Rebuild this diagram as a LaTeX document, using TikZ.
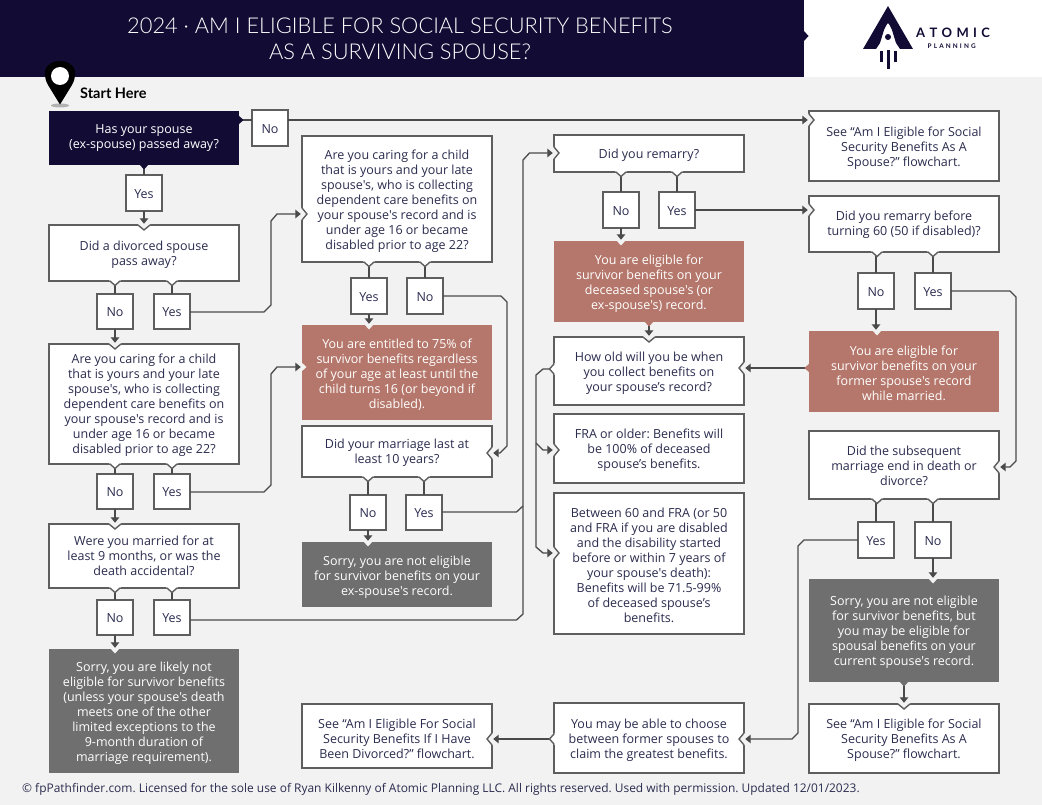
\documentclass[tikz,border=0pt]{standalone}
\usepackage{fontspec}
\setmainfont{Open Sans}
\newfontfamily\bodyfont{Open Sans}
\newfontfamily\hdrfont{Lato Light}
\newfontfamily\latofont{Lato}
\usetikzlibrary{arrows.meta}
\definecolor{navy}{HTML}{120C35}
\definecolor{bgc}{HTML}{F2F2F2}
\definecolor{salmon}{HTML}{B5776B}
\definecolor{slate}{HTML}{6F6F6F}
\definecolor{edgec}{HTML}{5E5E5E}
\definecolor{linec}{HTML}{4A4A4A}
\definecolor{txt}{HTML}{2A2C4E}
\tikzset{
  nbase/.style={inner sep=0pt,outer sep=0pt,align=center,font=\bodyfont\frenchspacing\fontsize{12.5}{15}\selectfont},
  qbox/.style={nbase,draw=edgec,line width=1.4pt,fill=white,text=txt},
  lbl/.style={qbox},
  navyb/.style={nbase,fill=navy,text=white,draw=none},
  salb/.style={nbase,fill=salmon,text=white,draw=none},
  grayb/.style={nbase,fill=slate,text=white,draw=none},
  conn/.style={draw=linec,line width=1.3pt,line join=round},
  arr/.style={conn,-{Triangle[length=5.5pt,width=8.5pt]},shorten >=1.2pt},
}
% height of the strut on a box's first line: it sets the text's vertical place
\newcommand\rh{12.5}
% box from corners: name, style, x1, y1, x2, y2, text
\newcommand\bx[7]{%
  \pgfmathsetmacro\cxx{(#3+#5)/2}\pgfmathsetmacro\cyy{(#4+#6)/2}%
  \pgfmathsetmacro\wdd{#5-#3}\pgfmathsetmacro\htt{#6-#4}%
  \node[#2,minimum width=\wdd pt,minimum height=\htt pt] (#1) at (\cxx,\cyy) {\rule{0pt}{\rh pt}#7};}
% entry notch: x, y, rotation
\newcommand\nin[3]{\begin{scope}[shift={(#1,#2)},rotate=#3]
  \fill[bgc] (-6,-1) -- (-6,0) -- (0,5) -- (6,0) -- (6,-1) -- cycle;
  \draw[edgec,line width=1.4pt,line join=miter] (-6,0) -- (0,5) -- (6,0);
  \end{scope}}
% exit tab on outlined box
\newcommand\nout[3]{\begin{scope}[shift={(#1,#2)},rotate=#3]
  \fill[white] (-6,-1) -- (0,4.5) -- (6,-1) -- cycle;
  \draw[edgec,line width=1.4pt,line join=miter] (-5,0) -- (0,4.5) -- (5,0);
  \end{scope}}
% triangle on filled box: x, y, rotation, colour
\newcommand\nfil[4]{\begin{scope}[shift={(#1,#2)},rotate=#3]
  \fill[#4] (-5,-1) -- (0,4.5) -- (5,-1) -- cycle;
  \end{scope}}
\begin{document}
\begin{tikzpicture}[x=1pt,y=-1pt]
\useasboundingbox (0,0) rectangle (1042,805);
\fill[bgc] (0,0) rectangle (1042,805);
% header
\fill[white] (804,0) rectangle (1042,77);
\fill[navy] (0,0) rectangle (804,77);
\fill[navy] (804,31) -- (808.5,36) -- (804,41) -- cycle;
\node[text=white,align=center,font=\hdrfont\fontsize{21.8}{26}\selectfont] (title) at (400,38.5) {2024 · AM I ELIGIBLE FOR SOCIAL SECURITY BENEFITS\\AS A SURVIVING SPOUSE?};
% logo
\fill[navy] (888,6) -- (913,49) -- (900,49) -- (896,43) -- (892,30) .. controls (891,27) and (889,24) .. (888,23) .. controls (887,24) and (885,27) .. (884,30) -- (880,43) -- (876,49) -- (863,49) -- cycle;
\fill[navy] (888,37) circle (3);
\fill[navy] (879.5,51) rectangle (882.5,62);
\fill[navy] (893.5,51) rectangle (896.5,62);
\fill[navy] (886.5,50) rectangle (889.5,69);
\node[text=navy,anchor=west,inner sep=0pt,font=\latofont\bfseries\fontsize{13}{14}\selectfont] (atomic) at (916,32.5) {A\,\,T\,\,O\,\,M\,\,I\,\,C};
\node[text=navy,anchor=west,inner sep=0pt,font=\latofont\bfseries\fontsize{6.4}{7}\selectfont] (plan) at (927.5,46) {P\,\,L\,\,A\,\,N\,\,N\,\,I\,\,N\,\,G};
% pin
\fill[gray!60] (60,105.5) ellipse (9 and 2);
\fill[black] (60,104.5) -- (48,85) .. controls (40,70) and (48,61) .. (60,61) .. controls (72,61) and (80,70) .. (72,85) -- cycle;
\fill[white] (60,76) circle (9);
\node[anchor=west,inner sep=0pt,font=\latofont\bfseries\fontsize{14.5}{16}\selectfont] (start) at (80,93) {Start Here};
% left column
\renewcommand\rh{0}
\bx{qa}{navyb}{49}{111}{239}{165}{Has your spouse\\(ex-spouse) passed away?}
\bx{qd}{qbox}{49}{524}{239}{588}{Were you married for at\\least 9 months, or was the\\death accidental?}
\renewcommand\rh{10.5}
\bx{ya}{lbl}{126}{175}{162}{211}{Yes}
\bx{na}{lbl}{252}{110}{288}{146}{No}
\bx{nb}{lbl}{97}{294}{133}{329}{No}
\bx{yb}{lbl}{154}{294}{190}{329}{Yes}
\bx{nc}{lbl}{97}{474}{133}{509}{No}
\bx{yc}{lbl}{154}{474}{190}{509}{Yes}
\bx{nd}{lbl}{97}{600}{133}{635}{No}
\bx{yd}{lbl}{154}{600}{190}{635}{Yes}
\bx{ye}{lbl}{351}{278}{387}{314}{Yes}
\bx{ne}{lbl}{407}{278}{443}{314}{No}
\bx{nf}{lbl}{350}{495}{386}{530}{No}
\bx{yf}{lbl}{406}{495}{442}{530}{Yes}
\bx{ng}{lbl}{603}{192}{639}{228}{No}
\bx{yg}{lbl}{659}{192}{695}{228}{Yes}
\bx{ni}{lbl}{858}{273}{894}{309}{No}
\bx{yi}{lbl}{915}{273}{951}{309}{Yes}
\bx{yj}{lbl}{858}{522}{894}{558}{Yes}
\bx{nj}{lbl}{915}{522}{951}{558}{No}
\bx{qi}{qbox}{809}{196}{999}{252}{Did you remarry before\\turning 60 (50 if disabled)?}
\bx{qj}{qbox}{809}{431}{999}{499}{Did the subsequent\\marriage end in death or\\divorce?}
\renewcommand\rh{12.5}
\bx{qb}{qbox}{49}{225}{239}{281}{Did a divorced spouse\\pass away?}
\bx{qc}{qbox}{49}{344}{239}{464}{Are you caring for a child\\that is yours and your late\\spouse's, who is collecting\\dependent care benefits on\\your spouse's record and is\\under age 16 or became\\disabled prior to age 22?}
\bx{qf}{qbox}{302}{426}{492}{477}{Did your marriage last at\\least 10 years?}
\bx{qg}{qbox}{554}{135}{744}{172}{Did you remarry?}
\bx{rb}{qbox}{554}{414}{744}{483}{FRA or older: Benefits will\\be 100\% of deceased\\spouse’s benefits.}
\bx{rc}{qbox}{554}{493}{744}{634}{Between 60 and FRA (or 50\\and FRA if you are disabled\\and the disability started\\before or within 7 years of\\your spouse's death):\\Benefits will be 71.5-99\%\\of deceased spouse’s\\benefits.}
\bx{se}{salb}{809}{331}{999}{412}{You are eligible for\\survivor benefits on your\\former spouse's record\\while married.}
\bx{sf}{grayb}{809}{579}{999}{682}{Sorry, you are not eligible\\for survivor benefits, but\\you may be eligible for\\spousal benefits on your\\current spouse's record.}
\bx{rf}{qbox}{809}{704}{999}{773}{See “Am I Eligible for Social\\Security Benefits As A\\Spouse?” flowchart.}
\renewcommand\rh{14.5}
\bx{sa}{grayb}{49}{649}{239}{773}{Sorry, you are likely not\\eligible for survivor benefits\\(unless your spouse's death\\meets one of the other\\limited exceptions to the\\9-month duration of\\marriage requirement).}
\bx{qe}{qbox}{302}{136}{492}{262}{Are you caring for a child\\that is yours and your late\\spouse's, who is collecting\\dependent care benefits on\\your spouse's record and is\\under age 16 or became\\disabled prior to age 22?}
\bx{sb}{salb}{302}{325}{492}{420}{You are entitled to 75\% of\\survivor benefits regardless\\of your age at least until the\\child turns 16 (or beyond if\\disabled).}
\bx{sc}{grayb}{302}{542}{492}{607}{Sorry, you are not eligible\\for survivor benefits on your\\ex-spouse's record.}
\bx{ra}{qbox}{302}{704}{492}{768}{See “Am I Eligible For Social\\Security Benefits If I Have\\Been Divorced?” flowchart.}
\bx{sd}{salb}{554}{241}{744}{322}{You are eligible for\\survivor benefits on your\\deceased spouse's (or\\ex-spouse's) record.}
\bx{qh}{qbox}{554}{337}{744}{405}{How old will you be when\\you collect benefits on\\your spouse’s record?}
\bx{rd}{qbox}{554}{703}{744}{773}{You may be able to choose\\between former spouses to\\claim the greatest benefits.}
\bx{re}{qbox}{809}{111}{999}{181}{See “Am I Eligible for Social\\Security Benefits As A\\Spouse?” flowchart.}
% entry / exit points
\coordinate (qeIn) at (302,214);
\coordinate (sbIn) at (302,367);
\coordinate (qgIn) at (554,153);
\coordinate (qfIn) at (492,453);
\coordinate (reIn) at (809,120);
\coordinate (qiIn) at (809,210);
\coordinate (qjIn) at (999,467);
\coordinate (rdIn) at (744,739);
\coordinate (qhIn) at (744,368);
\coordinate (qhOut) at (554,369);
\coordinate (rbIn) at (554,450);
\coordinate (rcIn) at (554,553);
\coordinate (qaOut) at (239,120);
\coordinate (ybOut) at (190,312);
\coordinate (ycOut) at (190,492);
\coordinate (ydOut) at (190,620);
\coordinate (yfOut) at (442,512);
\coordinate (seOut) at (809,368);
% connectors
\draw[conn] (qaOut) -- (qaOut -| na.west);
\draw[arr] (na.east |- qaOut) -- (reIn);
\draw[conn] (qa.south -| ya.north) -- (ya.north);
\draw[arr] (ya.south) -- (ya.south |- qb.north);
\draw[conn] (qb.south -| nb.north) -- (nb.north);
\draw[conn] (qb.south -| yb.north) -- (yb.north);
\draw[arr] (nb.south) -- (nb.south |- qc.north);
\draw[arr] (ybOut) -- (264,312) -- (271,305) -- (271,221) -- (277,214) -- (qeIn);
\draw[conn] (qc.south -| nc.north) -- (nc.north);
\draw[conn] (qc.south -| yc.north) -- (yc.north);
\draw[arr] (nc.south) -- (nc.south |- qd.north);
\draw[arr] (ycOut) -- (264,492) -- (271,485) -- (271,374) -- (277,367) -- (sbIn);
\draw[conn] (qd.south -| nd.north) -- (nd.north);
\draw[conn] (qd.south -| yd.north) -- (yd.north);
\draw[arr] (nd.south) -- (nd.south |- sa.north);
\draw[arr] (ydOut) -- (516.5,620) -- (523,614) -- (523,160) -- (529.5,153) -- (qgIn);
\draw[conn] (qe.south -| ye.north) -- (ye.north);
\draw[conn] (qe.south -| ne.north) -- (ne.north);
\draw[arr] (ye.south) -- (ye.south |- sb.north);
\draw[arr] (ne.east) -- (501,296) -- (507,302) -- (507,446) -- (500,453) -- (qfIn);
\draw[conn] (qf.south -| nf.north) -- (nf.north);
\draw[conn] (qf.south -| yf.north) -- (yf.north);
\draw[arr] (nf.south) -- (nf.south |- sc.north);
\draw[conn] (yfOut) -- (516.5,512) -- (523,506);
\draw[conn] (qg.south -| ng.north) -- (ng.north);
\draw[conn] (qg.south -| yg.north) -- (yg.north);
\draw[arr] (ng.south) -- (ng.south |- sd.north);
\draw[arr] (yg.east) -- (qiIn);
\draw[arr] (sd.south) -- (sd.south |- qh.north);
\draw[arr] (qhOut) -- (543,369) -- (536,375) -- (536,547) -- (543,553) -- (rcIn);
\draw[arr] (536,443) -- (543,450) -- (rbIn);
\draw[arr] (seOut) -- (qhIn);
\draw[conn] (qi.south -| ni.north) -- (ni.north);
\draw[conn] (qi.south -| yi.north) -- (yi.north);
\draw[arr] (ni.south) -- (ni.south |- se.north);
\draw[arr] (yi.east) -- (1010,291) -- (1016,297) -- (1016,461) -- (1010,467) -- (qjIn);
\draw[conn] (qj.south -| yj.north) -- (yj.north);
\draw[conn] (qj.south -| nj.north) -- (nj.north);
\draw[arr] (nj.south) -- (nj.south |- sf.north);
\draw[arr] (yj.west) -- (804,540) -- (798,546) -- (798,733) -- (792,739) -- (rdIn);
\draw[arr] (sf.south -| rf.north) -- (rf.north);
\draw[arr] (rd.west |- rdIn) -- (ra.east |- rdIn);
% tabs and notches
\nfil{239}{120}{90}{navy}
\nfil{144}{165}{0}{navy}
\nin{144}{225}{0}
\nin{809}{120}{90}
\nout{115}{281}{0}
\nout{172}{281}{0}
\nin{115}{344}{0}
\nin{302}{214}{90}
\nout{115}{464}{0}
\nout{172}{464}{0}
\nin{115}{524}{0}
\nout{115}{588}{0}
\nout{172}{588}{0}
\nfil{115}{649}{0}{bgc}
\nout{369}{262}{0}
\nout{425}{262}{0}
\nfil{369}{325}{0}{bgc}
\nfil{302}{367}{90}{bgc}
\nin{492}{453}{-90}
\nout{368}{477}{0}
\nout{424}{477}{0}
\nfil{368}{542}{0}{bgc}
\nin{554}{153}{90}
\nout{621}{172}{0}
\nout{677}{172}{0}
\nfil{621}{241}{0}{bgc}
\nfil{649}{322}{0}{salmon}
\nin{649}{337}{0}
\nin{744}{368}{-90}
\nout{554}{369}{-90}
\nin{554}{450}{90}
\nin{554}{553}{90}
\nin{809}{210}{90}
\nout{877}{252}{0}
\nout{933}{252}{0}
\nfil{877}{331}{0}{bgc}
\nfil{809}{368}{-90}{salmon}
\nin{999}{467}{-90}
\nout{877}{499}{0}
\nout{933}{499}{0}
\nfil{933}{579}{0}{bgc}
\nfil{904}{682}{0}{slate}
\nin{904}{704}{0}
\nin{744}{739}{-90}
\nout{554}{739}{-90}
\nin{492}{739}{-90}
% footer
\node[anchor=west,inner sep=0pt,text=txt,font=\bodyfont\frenchspacing\fontsize{11.95}{14}\selectfont] (foot) at (22,789.5) {© fpPathfinder.com. Licensed for the sole use of Ryan Kilkenny of Atomic Planning LLC. All rights reserved. Used with permission. Updated 12/01/2023.};
\end{tikzpicture}
\end{document}
